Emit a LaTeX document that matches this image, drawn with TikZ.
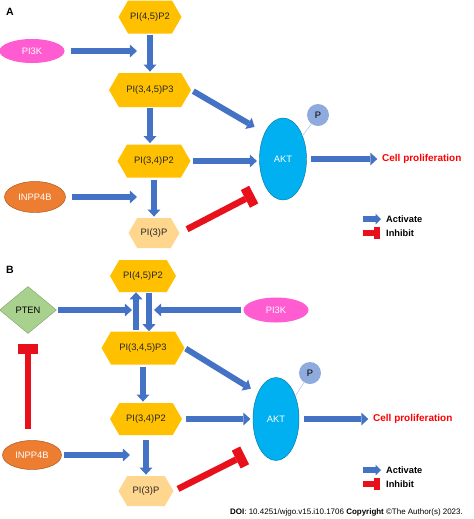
\documentclass[tikz,border=0pt]{standalone}
\usepackage{fontspec}
\setmainfont{Liberation Sans}
\usetikzlibrary{arrows.meta,shapes.geometric,shapes.symbols}

\begin{document}
\begin{tikzpicture}[x=0.03cm,y=-0.03cm,
  hexa/.style={shape=signal,signal to=east and west,signal pointer angle=120,fill=lipgold,inner sep=0pt,text=black!85,font=\fontsize{8}{9}\selectfont},
  oval/.style={shape=ellipse,inner sep=0pt,text=white,font=\fontsize{8}{9}\selectfont},
  blk/.style={draw=actblue,line width=5pt,-{Triangle[length=6pt,width=11pt,line width=0pt]}},
  inh/.style={draw=inhred,line width=5.5pt,-{Rectangle[length=8pt,width=17pt,line width=0pt]}},
  legblk/.style={draw=actblue,line width=5pt,-{Triangle[length=4.5pt,width=9pt,line width=0pt]}},
  leginh/.style={draw=inhred,line width=5.5pt,-{Rectangle[length=5pt,width=11pt,line width=0pt]}},
  cellt/.style={text=red,inner sep=0pt,font=\bfseries\fontsize{8.5}{10}\selectfont},
  legt/.style={inner sep=0pt,font=\bfseries\fontsize{7.9}{9}\selectfont},
  panel/.style={font=\bfseries\fontsize{9}{10}\selectfont}]
\definecolor{lipgold}{RGB}{255,192,0}
\definecolor{lippale}{RGB}{255,214,142}
\definecolor{pikpink}{RGB}{255,92,210}
\definecolor{inppor}{RGB}{237,125,49}
\definecolor{aktblue}{RGB}{0,176,240}
\definecolor{phosblue}{RGB}{143,170,220}
\definecolor{ptengreen}{RGB}{169,209,142}
\definecolor{actblue}{RGB}{68,114,196}
\definecolor{inhred}{RGB}{232,16,26}
\useasboundingbox (0,0) rectangle (474,519);

% panel A
\node[panel] (labA) at (10,12) {A};
\node[hexa,minimum width=1.89cm,minimum height=0.99cm] (p45a) at (150,17) {PI(4,5)P2};
\node[oval,fill=pikpink,minimum width=1.95cm,minimum height=0.72cm] (pi3ka) at (32,51) {PI3K};
\node[hexa,minimum width=2.46cm,minimum height=1.02cm] (p345a) at (150,90) {PI(3,4,5)P3};
\node[hexa,minimum width=2.19cm,minimum height=0.99cm] (p34a) at (154,161) {PI(3,4)P2};
\node[oval,fill=inppor,draw=inppor!70!black,minimum width=1.83cm,minimum height=0.93cm] (inppa) at (35,197) {INPP4B};
\node[hexa,fill=lippale,minimum width=1.53cm,minimum height=0.9cm] (p3a) at (154,233) {PI(3)P};
\node[oval,fill=aktblue,draw=aktblue!70!black,minimum width=1.41cm,minimum height=2.46cm] (akta) at (283,159) {AKT};
\node[shape=circle,fill=phosblue,inner sep=0pt,minimum size=0.66cm,font=\fontsize{8}{9}\selectfont] (pa) at (318,115) {P};
\node[cellt,anchor=west] (cella) at (382,159) {Cell proliferation};
\node[legt,anchor=west] (acta) at (386,219) {Activate};
\node[legt,anchor=west] (inha) at (386,233) {Inhibit};
\coordinate (jA1) at (137,51);
\coordinate (jA2) at (137,197);

\draw[phosblue!60,line width=0.6pt] (akta.50) -- (pa);
\draw[blk,shorten <=5pt] (pi3ka.east) -- (jA1);
\draw[blk,shorten <=1pt,shorten >=1pt] (p45a.south) -- (p345a.north);
\draw[blk,shorten <=1pt,shorten >=1pt] (p345a.south) -- (p345a.south |- p34a.north);
\draw[blk,shorten <=2pt,shorten >=10pt] (p345a.east) -- (akta.125);
\draw[blk,shorten <=2pt,shorten >=2pt] (p34a.east) -- (p34a.east -| akta.west);
\draw[blk,shorten <=5pt] (inppa.east) -- (jA2);
\draw[blk,shorten <=2pt,shorten >=1pt] (p34a.south) -- (p3a.north);
\draw[inh,shorten <=7pt,shorten >=12pt] (p3a.east) -- (akta.240);
\draw[blk,shorten <=4pt,shorten >=4pt] (akta.east) -- (cella.west);
\draw[legblk] ([xshift=-0.69cm]acta.west) -- ([xshift=-0.15cm]acta.west);
\draw[leginh] ([xshift=-0.69cm]inha.west) -- ([xshift=-0.18cm]inha.west);

% panel B
\node[panel] (labB) at (10,270) {B};
\node[hexa,minimum width=1.98cm,minimum height=0.96cm] (p45b) at (143,276) {PI(4,5)P2};
\node[shape=diamond,fill=ptengreen,draw=ptengreen!80!black,inner sep=0pt,minimum width=1.71cm,minimum height=1.41cm,font=\fontsize{8}{9}\selectfont] (ptenb) at (28,310) {PTEN};
\node[oval,fill=pikpink,minimum width=1.95cm,minimum height=0.75cm] (pi3kb) at (276,310) {PI3K};
\node[hexa,minimum width=2.49cm,minimum height=0.99cm] (p345b) at (143,348) {PI(3,4,5)P3};
\node[hexa,minimum width=2.16cm,minimum height=0.96cm] (p34b) at (146,419) {PI(3,4)P2};
\node[oval,fill=inppor,draw=inppor!70!black,minimum width=1.77cm,minimum height=0.87cm] (inppb) at (32,455) {INPP4B};
\node[hexa,fill=lippale,minimum width=1.65cm,minimum height=0.9cm] (p3b) at (146,491) {PI(3)P};
\node[oval,fill=aktblue,draw=aktblue!70!black,minimum width=1.38cm,minimum height=2.49cm] (aktb) at (276,419) {AKT};
\node[shape=circle,fill=phosblue,inner sep=0pt,minimum size=0.66cm,font=\fontsize{8}{9}\selectfont] (pb) at (310,373) {P};
\node[cellt,anchor=west] (cellb) at (373,419) {Cell proliferation};
\node[legt,anchor=west] (actb) at (386,470) {Activate};
\node[legt,anchor=west] (inhb) at (386,484) {Inhibit};
\node[anchor=west,inner sep=0pt,font=\fontsize{6.8}{8}\selectfont] (doi) at (230,512) {\textbf{DOI}: 10.4251/wjgo.v15.i10.1706 \textbf{Copyright} ©The Author(s) 2023.};
\coordinate (jB1) at (132,310);
\coordinate (jB2) at (154,310);
\coordinate (jB3) at (130,455);

\draw[phosblue!60,line width=0.6pt] (aktb.50) -- (pb);
\draw[blk,shorten <=1pt] (ptenb.east) -- (jB1);
\draw[blk,shorten <=2pt] (pi3kb.west) -- (jB2);
\draw[blk,shorten <=1pt] ([xshift=-0.21cm]p345b.north) -- ([xshift=-0.21cm]p45b.south);
\draw[blk,shorten <=1pt] ([xshift=0.18cm]p45b.south) -- ([xshift=0.18cm]p345b.north);
\draw[blk,shorten <=2pt,shorten >=1pt] (p345b.south) -- (p345b.south |- p34b.north);
\draw[blk,shorten <=1pt,shorten >=7pt] (p345b.east) -- (aktb.125);
\draw[blk,shorten <=3pt,shorten >=2pt] (p34b.east) -- (aktb.west);
\draw[blk,shorten <=2pt] (inppb.east) -- (jB3);
\draw[blk,shorten <=4pt,shorten >=1pt] (p34b.south) -- (p3b.north);
\draw[inh,shorten <=4pt,shorten >=14pt] (p3b.east) -- (aktb.240);
\draw[inh,shorten <=10pt,shorten >=9pt] (inppb.north -| ptenb) -- (ptenb.south);
\draw[blk,shorten <=4pt,shorten >=4pt] (aktb.east) -- (cellb.west);
\draw[legblk] ([xshift=-0.69cm]actb.west) -- ([xshift=-0.15cm]actb.west);
\draw[leginh] ([xshift=-0.69cm]inhb.west) -- ([xshift=-0.18cm]inhb.west);
\end{tikzpicture}
\end{document}
